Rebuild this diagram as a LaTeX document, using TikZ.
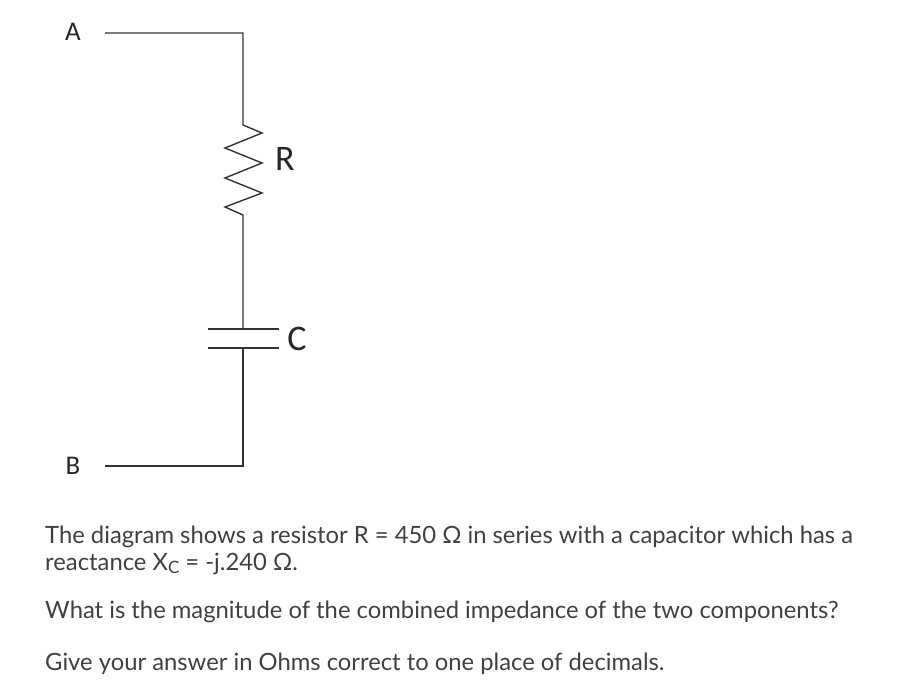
\documentclass[tikz,border=0pt]{standalone}
\usepackage{fontspec}
\setmainfont{Lato}
\newfontfamily\calib{Carlito}
\begin{document}
\begin{tikzpicture}[x=1pt,y=-1pt,wire/.style={line width=1.4pt,draw=black!80},
 lbl/.style={font=\calib\fontsize{27}{30}\selectfont,text=black!85,inner sep=0},
 blbl/.style={font=\calib\fontsize{36}{40}\selectfont,text=black!85,inner sep=0},
 txt/.style={font=\fontsize{23.8}{28}\selectfont,text=black!75,anchor=base west,inner sep=0}]
\useasboundingbox (0,0) rectangle (916,695);
\node[lbl] (A) at (73,32) {A};
\node[lbl] (B) at (73,466) {B};
\coordinate (a1) at (105,33);
\coordinate (a2) at (243,33);
\coordinate (b1) at (105,466);
\coordinate (b2) at (243,466);
\coordinate (r1) at (243,125);
\coordinate (r2) at (243,215);
\coordinate (c1) at (243,329);
\coordinate (c2) at (243,348);
\draw[wire] (a1) -- (a2) -- (r1) -- (262,133) -- (225,148) -- (262,163) -- (225,178) -- (262,193) -- (225,207) -- (r2) -- (c1);
\draw[wire] (c2) -- (b2) -- (b1);
\draw[wire] (208,329) -- (279,329);
\draw[wire] (208,348) -- (279,348);
\node[blbl] (R) at (285,159) {R};
\node[blbl] (C) at (297,339) {C};
\node[txt] (t1) at (45,543) {The diagram shows a resistor R = 450 Ω in series with a capacitor which has a};
\node[txt] (t2) at (45,570) {reactance X\raisebox{-0.3ex}{\fontsize{17}{20}\selectfont C} = -j.240 Ω.};
\node[txt] (t3) at (45,618) {What is the magnitude of the combined impedance of the two components?};
\node[txt] (t4) at (45,670) {Give your answer in Ohms correct to one place of decimals.};
\end{tikzpicture}
\end{document}
